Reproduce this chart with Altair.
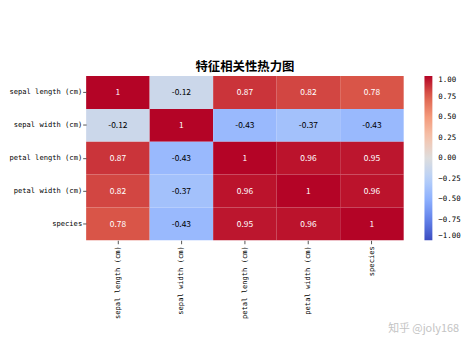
import altair as alt
import pandas as pd

features = ["sepal length (cm)", "sepal width (cm)", "petal length (cm)",
            "petal width (cm)", "species"]
corr = [
    [1.00, -0.12, 0.87, 0.82, 0.78],
    [-0.12, 1.00, -0.43, -0.37, -0.43],
    [0.87, -0.43, 1.00, 0.96, 0.95],
    [0.82, -0.37, 0.96, 1.00, 0.96],
    [0.78, -0.43, 0.95, 0.96, 1.00],
]
colorbar_ticks = [1.0, 0.75, 0.5, 0.25, 0.0, -0.25, -0.5, -0.75, -1.0]
title_text = "特征相关性热力图"
watermark = ["知乎 @joly168"]

rows = []
for i, r in enumerate(features):
    for j, c in enumerate(features):
        v = corr[i][j]
        rows.append({"row": r, "col": c, "value": v, "label": f"{v:.2g}"})
df = pd.DataFrame(rows)

coolwarm_domain = [-1, -0.75, -0.5, -0.25, 0, 0.25, 0.5, 0.75, 1]
coolwarm_range = ["#3b4cc0", "#6282ea", "#8db0fe", "#b8d0f9", "#dddddd",
                  "#f5c4ad", "#f49a7b", "#de604d", "#b40426"]

mono = "DejaVu Sans Mono"

base = alt.Chart(df).encode(
    x=alt.X("col:N", sort=features, title=None,
            axis=alt.Axis(labelAngle=-90, labelAlign="right", labelBaseline="middle",
                          labelFont=mono, labelFontSize=7.2, labelColor="#000",
                          domain=False, tickSize=3.5, tickColor="#555",
                          labelPadding=2)),
    y=alt.Y("row:N", sort=features, title=None,
            axis=alt.Axis(labelFont=mono, labelFontSize=7.2, labelColor="#000",
                          domain=False, tickSize=3.5, tickColor="#555",
                          labelPadding=1, labelLimit=200)),
)

rect = base.mark_rect().encode(
    color=alt.Color("value:Q",
                    scale=alt.Scale(domain=coolwarm_domain, range=coolwarm_range,
                                    interpolate="rgb"),
                    legend=alt.Legend(title=None, gradientLength=166, gradientThickness=8,
                                      values=colorbar_ticks, format=".2f",
                                      labelFont=mono, labelFontSize=7.5,
                                      labelColor="#000", labelOffset=6, offset=21,
                                      gradientStrokeWidth=0))
)

text = base.mark_text(font="Noto Sans CJK SC", fontSize=8.5).encode(
    text="label:N",
    color=alt.condition("datum.value > 0.5", alt.value("#ffffff"), alt.value("#000000")),
)

wm = alt.Chart(pd.DataFrame({"t": watermark})).mark_text(
    font="Noto Sans CJK SC", fontSize=11, color="#c4c4c4", align="right",
    baseline="middle"
).encode(x=alt.value(377), y=alt.value(256), text="t:N")

chart = alt.layer(rect, text, wm).properties(
    width=321, height=166,
    title=alt.TitleParams(title_text, font="Noto Sans CJK SC", fontSize=12.5,
                          fontWeight="bold", color="#000", offset=3, anchor="middle"),
    padding={"left": 0, "top": 51, "right": 5, "bottom": 5},
).configure_view(stroke=None)

chart.save("out.html", embed_options={"renderer": "svg", "actions": False})
